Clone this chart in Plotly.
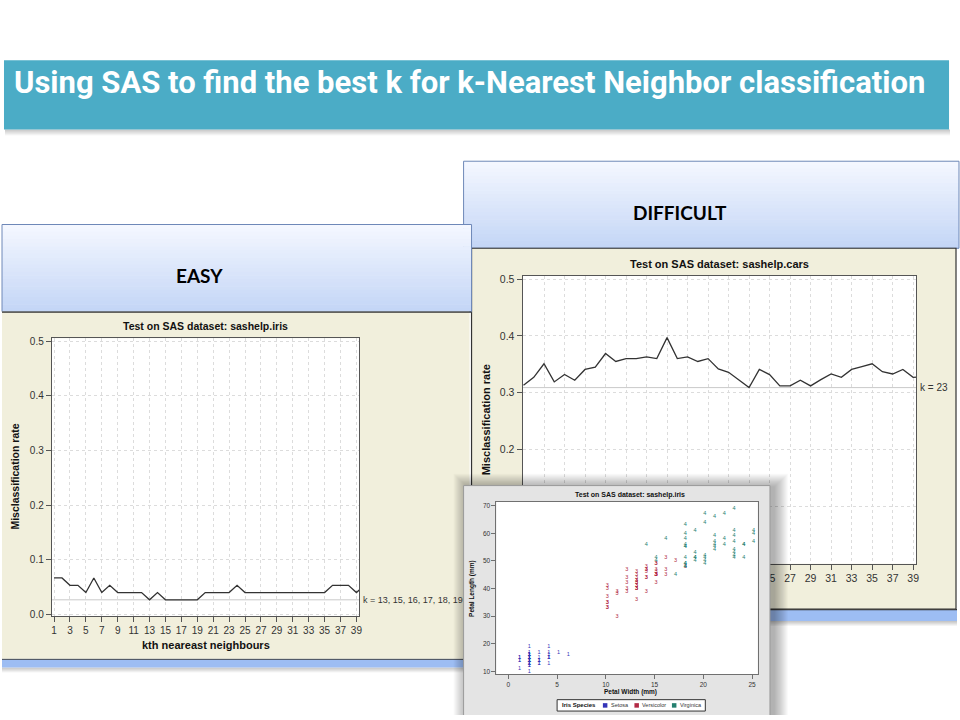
import plotly.graph_objects as go

W, H = 960, 720

# ---------------- data ----------------
k_values = list(range(1, 41))
iris_rates = [0.0667, 0.0667, 0.0533, 0.0533, 0.04, 0.0667, 0.04, 0.0533, 0.04, 0.04,
              0.04, 0.04, 0.0267, 0.04, 0.0267, 0.0267, 0.0267, 0.0267, 0.0267, 0.04,
              0.04, 0.04, 0.04, 0.0533, 0.04, 0.04, 0.04, 0.04, 0.04, 0.04,
              0.04, 0.04, 0.04, 0.04, 0.04, 0.0533, 0.0533, 0.0533, 0.04, 0.0533]
cars_rates = [0.313, 0.327, 0.351, 0.319, 0.332, 0.322, 0.341, 0.345, 0.369, 0.355,
              0.360, 0.360, 0.363, 0.360, 0.397, 0.360, 0.363, 0.355, 0.360, 0.342,
              0.336, 0.323, 0.309, 0.341, 0.332, 0.312, 0.312, 0.322, 0.312, 0.323,
              0.333, 0.327, 0.341, 0.346, 0.351, 0.337, 0.333, 0.341, 0.327, 0.328]

species = ["Setosa", "Versicolor", "Virginica"]
species_char = ["1", "3", "4"]
species_colors = ["#3434B8", "#B22A45", "#25806F"]
setosa_width = [2, 2, 2, 2, 2, 4, 3, 2, 2, 1, 2, 2, 1, 1, 2, 4, 4, 3, 3, 3, 2, 4, 2, 5, 2,
                2, 4, 2, 2, 2, 2, 4, 1, 2, 2, 2, 2, 1, 2, 2, 3, 3, 2, 6, 4, 3, 2, 2, 2, 2]
setosa_length = [14, 14, 13, 15, 14, 17, 14, 15, 14, 15, 15, 16, 14, 11, 12, 15, 13, 14, 17, 15, 17, 15, 10, 17, 19,
                 16, 16, 15, 14, 16, 16, 15, 15, 14, 15, 12, 13, 14, 13, 15, 13, 13, 13, 16, 19, 14, 16, 14, 15, 14]
versicolor_width = [14, 15, 15, 13, 15, 13, 16, 10, 13, 14, 10, 15, 10, 14, 13, 14, 15, 10, 15, 11, 18, 13, 15, 12, 13,
                    14, 14, 17, 15, 10, 11, 10, 12, 16, 15, 16, 15, 13, 13, 13, 12, 14, 12, 10, 13, 12, 13, 13, 11, 13]
versicolor_length = [47, 45, 49, 40, 46, 45, 47, 33, 46, 39, 35, 42, 40, 47, 36, 44, 45, 41, 45, 39, 48, 40, 49, 47, 43,
                     44, 48, 50, 45, 35, 38, 37, 39, 51, 45, 45, 47, 44, 41, 40, 44, 46, 40, 33, 42, 42, 42, 43, 30, 41]
virginica_width = [25, 19, 21, 18, 22, 21, 17, 18, 18, 25, 20, 19, 21, 20, 24, 23, 18, 22, 23, 15, 23, 20, 20, 18, 21,
                   18, 18, 18, 21, 16, 19, 20, 22, 15, 14, 23, 24, 18, 18, 21, 24, 23, 19, 23, 25, 23, 19, 20, 23, 18]
virginica_length = [60, 51, 59, 56, 58, 66, 45, 63, 58, 61, 51, 53, 55, 50, 51, 53, 55, 67, 69, 50, 57, 49, 67, 49, 57,
                    60, 48, 49, 56, 58, 61, 64, 56, 51, 56, 61, 56, 55, 48, 54, 56, 51, 51, 59, 57, 52, 50, 52, 54, 51]
widths = [setosa_width, versicolor_width, virginica_width]
lengths = [setosa_length, versicolor_length, virginica_length]

SAS_FONT = "Liberation Sans, Arial, sans-serif"

# ---------------- helpers ----------------
shapes = []


def pxx(x):
    return x / W


def pxy(y):
    return 1 - y / H


def rect(x0, y0, x1, y1, fill, line=None, lw=0):
    shapes.append(dict(type="rect", xref="paper", yref="paper", layer="below",
                       x0=pxx(x0), x1=pxx(x1), y0=pxy(y1), y1=pxy(y0),
                       fillcolor=fill, line=dict(color=line or fill, width=lw)))


def hline(x0, x1, y, color, lw=1):
    shapes.append(dict(type="line", xref="paper", yref="paper", layer="below",
                       x0=pxx(x0), x1=pxx(x1), y0=pxy(y), y1=pxy(y),
                       line=dict(color=color, width=lw)))


def gradient_box(x0, y0, x1, y1, c0, c1, border, n=24):
    h = (y1 - y0) / n
    for i in range(n):
        t = i / (n - 1)
        c = tuple(int(round(c0[j] + (c1[j] - c0[j]) * t)) for j in range(3))
        rect(x0, y0 + i * h, x1, y0 + (i + 1) * h + 0.6, "rgb(%d,%d,%d)" % c)
    shapes.append(dict(type="rect", xref="paper", yref="paper", layer="below",
                       x0=pxx(x0), x1=pxx(x1), y0=pxy(y1), y1=pxy(y0),
                       fillcolor="rgba(0,0,0,0)", line=dict(color=border, width=1)))


def soft_shadow(x0, x1, y, depth=6):
    for i in range(depth):
        rect(x0, y + i, x1, y + i + 1, "rgba(0,0,0,%.3f)" % (0.22 * (1 - i / depth)))


# ---------------- slide decoration ----------------
soft_shadow(3, 953, 128, 6)
rect(2, 58, 952, 128, "#4BACC6")

# right (DIFFICULT) panel
gradient_box(464, 160, 962, 248, (244, 247, 255), (196, 214, 246), "#6E88B8")
soft_shadow(472, 960, 625, 5)
rect(472, 613, 960, 625, "#9DBDF3")
hline(472, 960, 613.5, "#3A3A3A", 1.2)
rect(472, 248, 959, 613, "#F1EFDC")
shapes.append(dict(type="rect", xref="paper", yref="paper", layer="below",
                   x0=pxx(472), x1=pxx(959), y0=pxy(613), y1=pxy(248),
                   fillcolor="rgba(0,0,0,0)", line=dict(color="#333333", width=1.2)))

# left (EASY) panel
gradient_box(0, 224, 472, 312, (244, 247, 255), (196, 214, 246), "#6E88B8")
soft_shadow(0, 470, 672, 5)
rect(0, 663, 470, 672, "#9DBDF3")
hline(0, 470, 663.5, "#3A3A3A", 1.2)
rect(0, 312, 470, 663, "#F1EFDC")
hline(0, 472, 312.5, "#333333", 1.2)

# white plot areas of the two line charts
rect(50, 339, 359, 620, "#FFFFFF")
rect(523.3, 276, 919, 567, "#FFFFFF")

# ---------------- axes geometry ----------------
ax1 = dict(xd=(50, 359), yd=(339, 620), xr=(0.71, 39.34), yr=(-0.0031, 0.5054))
ax2 = dict(xd=(523.3, 919), yd=(276, 567), xr=(0.91, 39.3), yr=(-0.0012, 0.5057))
ax3 = dict(xd=(440, 810), yd=(460, 720))          # overlay frame, pixel units
ax4 = dict(xd=(497, 759.7), yd=(504.3, 679), xr=(-1.22, 25.58), yr=(8.93, 71.4))


def y_at_px(ax, p):
    top, bot = ax["yd"]
    lo, hi = ax["yr"]
    return lo + (bot - p) / (bot - top) * (hi - lo)


fig = go.Figure()

LINE_COL = "#333333"
REF_COL = "#C9C9C9"

# ---- subplot 1: iris line
iris_min = min(iris_rates)
fig.add_trace(go.Scatter(x=list(ax1["xr"]), y=[iris_min, iris_min], mode="lines",
                         line=dict(color=REF_COL, width=1), xaxis="x", yaxis="y",
                         hoverinfo="skip", showlegend=False))
fig.add_trace(go.Scatter(x=k_values, y=iris_rates, mode="lines",
                         line=dict(color=LINE_COL, width=1.3), xaxis="x", yaxis="y",
                         showlegend=False))

# ---- subplot 2: cars line
cars_min = min(cars_rates)
fig.add_trace(go.Scatter(x=list(ax2["xr"]), y=[cars_min, cars_min], mode="lines",
                         line=dict(color=REF_COL, width=1), xaxis="x2", yaxis="y2",
                         hoverinfo="skip", showlegend=False))
fig.add_trace(go.Scatter(x=k_values, y=cars_rates, mode="lines",
                         line=dict(color=LINE_COL, width=1.3), xaxis="x2", yaxis="y2",
                         showlegend=False))
# x-axis title of the right chart (drawn inside the subplot so the overlay can cover it)
fig.add_trace(go.Scatter(x=[(ax2["xr"][0] + ax2["xr"][1]) / 2], y=[y_at_px(ax2, 598)],
                         mode="text", text=["<b>kth neareast neighbours</b>"],
                         textfont=dict(family=SAS_FONT, size=11, color="#111111"),
                         cliponaxis=False, xaxis="x2", yaxis="y2",
                         hoverinfo="skip", showlegend=False))


# ---- subplot 3: overlay frame of the scatter picture (pixel coordinates)
def rect_trace(x0, y0, x1, y1, fill, line=None, lw=0):
    fig.add_trace(go.Scatter(x=[x0, x1, x1, x0, x0], y=[y0, y0, y1, y1, y0],
                             mode="lines", fill="toself", fillcolor=fill,
                             line=dict(color=line or "rgba(0,0,0,0)", width=lw),
                             xaxis="x3", yaxis="y3", hoverinfo="skip", showlegend=False))


for d in range(14, 0, -1):
    rect_trace(464 + 4 - d, 488 + 2 - d, 772 + 4 + d, 740, "rgba(0,0,0,0.022)")
rect_trace(464, 488, 772, 730, "#E4E4E4", "#9A9A9A", 1)
rect_trace(ax4["xd"][0], ax4["yd"][0], ax4["xd"][1], ax4["yd"][1], "#FFFFFF")
rect_trace(558, 704.5, 707, 716, "#FFFFFF", "#333333", 1)
legend_sq_x = [606.3, 638.0, 675.7]
fig.add_trace(go.Scatter(x=legend_sq_x, y=[710.3] * 3, mode="markers",
                         marker=dict(symbol="square", size=4.5, color=species_colors),
                         xaxis="x3", yaxis="y3", hoverinfo="skip", showlegend=False))

# ---- subplot 4: iris scatter
for s in range(3):
    fig.add_trace(go.Scatter(x=widths[s], y=lengths[s], mode="text",
                             text=[species_char[s]] * len(widths[s]),
                             textposition="middle right",
                             textfont=dict(family=SAS_FONT, size=5.5, color=species_colors[s]),
                             name=species[s], xaxis="x4", yaxis="y4", showlegend=False))


# ---------------- axes ----------------
def common_axis(size=10):
    return dict(showline=True, mirror=True, linecolor="#555555", linewidth=1,
                ticks="outside", ticklen=5, tickcolor="#555555",
                tickfont=dict(family=SAS_FONT, size=size, color="#333333"),
                zeroline=False, fixedrange=True)


grid = dict(showgrid=True, gridcolor="#DCDCDC", griddash="dot", gridwidth=1)
small_axis = {**common_axis(6.5), "ticklen": 4, "linecolor": "#707070", "tickcolor": "#707070"}

layout_axes = dict(
    xaxis=dict(domain=[pxx(ax1["xd"][0]), pxx(ax1["xd"][1])], range=list(ax1["xr"]),
               tick0=1, dtick=2, anchor="y", **grid, **common_axis(10)),
    yaxis=dict(domain=[pxy(ax1["yd"][1]), pxy(ax1["yd"][0])], range=list(ax1["yr"]),
               tick0=0, dtick=0.1, tickformat=".1f", anchor="x", **grid, **common_axis(10)),
    xaxis2=dict(domain=[pxx(ax2["xd"][0]), pxx(ax2["xd"][1])], range=list(ax2["xr"]),
                tick0=1, dtick=2, anchor="y2", **grid, **common_axis(10.5)),
    yaxis2=dict(domain=[pxy(ax2["yd"][1]), pxy(ax2["yd"][0])], range=list(ax2["yr"]),
                tick0=0, dtick=0.1, tickformat=".1f", anchor="x2", **grid, **common_axis(10.5)),
    xaxis3=dict(domain=[pxx(ax3["xd"][0]), pxx(ax3["xd"][1])], range=list(ax3["xd"]),
                visible=False, anchor="y3", fixedrange=True),
    yaxis3=dict(domain=[pxy(ax3["yd"][1]), pxy(ax3["yd"][0])],
                range=[ax3["yd"][1], ax3["yd"][0]], visible=False, anchor="x3", fixedrange=True),
    xaxis4=dict(domain=[pxx(ax4["xd"][0]), pxx(ax4["xd"][1])], range=list(ax4["xr"]),
                tick0=0, dtick=5, anchor="y4", showgrid=False, **small_axis),
    yaxis4=dict(domain=[pxy(ax4["yd"][1]), pxy(ax4["yd"][0])], range=list(ax4["yr"]),
                tick0=10, dtick=10, anchor="x4", showgrid=False, **small_axis),
)

# ---------------- annotations ----------------
ann = []


def text(x, y, s, size, color="#111111", family=SAS_FONT, bold=False, angle=0,
         xanchor="center", yanchor="middle"):
    ann.append(dict(x=pxx(x), y=pxy(y), xref="paper", yref="paper", showarrow=False,
                    text="<b>%s</b>" % s if bold else s, textangle=angle,
                    xanchor=xanchor, yanchor=yanchor,
                    font=dict(family=family, size=size, color=color)))


text(10, 80, "Using SAS to find the best k for k-Nearest Neighbor classification", 31,
     color="#FFFFFF", family="Roboto, sans-serif", bold=True, xanchor="left")
text(199, 276, "EASY", 19, color="#000000", family="Lato, sans-serif", bold=True)
text(682, 212, "DIFFICULT", 19, color="#000000", family="Lato, sans-serif", bold=True)

text(204.5, 327, "Test on SAS dataset: sashelp.iris", 10.5, bold=True)
text(205, 649, "kth neareast neighbours", 11, bold=True)
text(13, 479, "Misclassification rate", 10.5, bold=True, angle=-90)

text(721.5, 264, "Test on SAS dataset: sashelp.cars", 11, bold=True)
text(486.5, 421, "Misclassification rate", 11, bold=True, angle=-90)

ann.append(dict(xref="x domain", yref="y", x=1, y=iris_min, xanchor="left", xshift=2,
                showarrow=False, font=dict(family=SAS_FONT, size=9, color="#333333"),
                text="k = " + ", ".join(str(k) for k, r in zip(k_values, iris_rates) if r == iris_min)))
ann.append(dict(xref="x2 domain", yref="y2", x=1, y=cars_min, xanchor="left", xshift=2,
                showarrow=False, font=dict(family=SAS_FONT, size=10, color="#333333"),
                text="k = " + ", ".join(str(k) for k, r in zip(k_values, cars_rates) if r == cars_min)))

# scatter picture texts
text(631, 498, "Test on SAS dataset: sashelp.iris", 7, bold=True)
text(632, 697, "Petal Width (mm)", 6.5, bold=True)
text(473, 592, "Petal Length (mm)", 6.5, bold=True, angle=-90)
text(560.5, 710.3, "Iris Species", 6, bold=True, xanchor="left")
for sx, name in zip(legend_sq_x, species):
    text(sx + 3.5, 710.3, name, 5.5, color="#333333", xanchor="left")

fig.update_layout(
    width=W, height=H, margin=dict(l=0, r=0, t=0, b=0),
    paper_bgcolor="#FFFFFF", plot_bgcolor="rgba(0,0,0,0)",
    showlegend=False, shapes=shapes, annotations=ann,
    font=dict(family=SAS_FONT), hovermode=False,
    **layout_axes,
)

fig.write_html("out.html", config={"displayModeBar": False},
               post_script="document.body.style.margin='0px';document.body.style.overflow='hidden';")
